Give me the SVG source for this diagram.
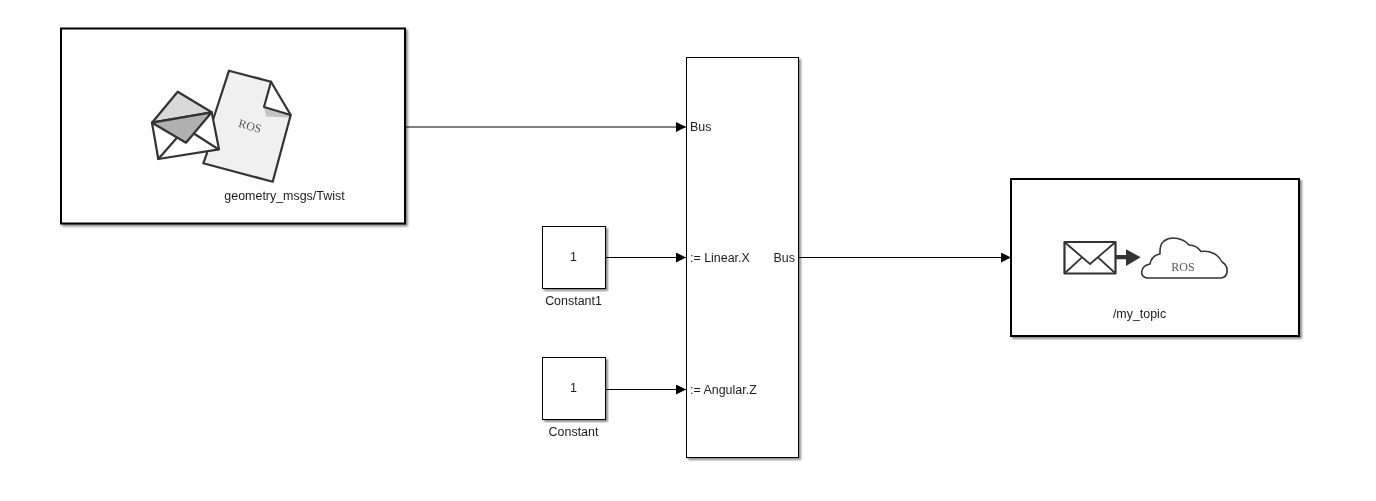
<svg xmlns="http://www.w3.org/2000/svg" width="1376" height="501" viewBox="0 0 1376 501">
<defs>
<filter id="sh" x="-5%" y="-5%" width="110%" height="110%"><feDropShadow dx="2" dy="2" stdDeviation="1.2" flood-color="#000" flood-opacity="0.45"/></filter>
<marker id="arr" markerUnits="userSpaceOnUse" markerWidth="11" markerHeight="10" refX="10" refY="5" orient="auto"><path d="M0,0 L10,5 L0,10 Z" fill="#000"/></marker>
</defs>
<style>
text{font-family:"Liberation Sans",Arial,sans-serif;font-size:12.45px;fill:#1a1a1a;opacity:.99}
text.ros{font-family:"Liberation Serif","Times New Roman",serif;font-size:12px;fill:#555}
.b{fill:#fff;stroke:#000;filter:url(#sh)}
.ic{stroke:#333;stroke-width:2.2;stroke-linejoin:round;stroke-linecap:round}
.c{stroke:#000;stroke-width:1;fill:none;marker-end:url(#arr)}
</style>
<rect width="1376" height="501" fill="#fff"/>
<g id="connectors">
<path class="c" d="M406,127 H686"/>
<path class="c" d="M606,257.500 H686"/>
<path class="c" d="M606,389.500 H686"/>
<path class="c" d="M799,257.500 H1011"/>
</g>
<g id="subscribe">
<rect class="b" x="61" y="28.500" width="344" height="195" stroke-width="2"/>
<path fill="#f0f0f0" d="M229,70.700 L271,81.700 L264,107 L290.700,115 L272.700,181.700 L203.300,163.300 Z"/>
<path d="M264,107 L290.700,115 L289,117.500 L266,116.500 Z" fill="#c4c4c4"/>
<path class="ic" fill="none" d="M213,120 L229,70.700 L271,81.700 L264,107 L290.700,115 L272.700,181.700 L203.300,163.300 L207,153"/>
<path class="ic" fill="none" d="M271,81.700 L290.700,115"/>
<path class="ic" fill="#fff" d="M152,122.700 L158.300,159 L219,149.300 L211.700,112.300 Z"/>
<path class="ic" fill="none" d="M158.300,159 L176.700,138 M218,149 L195,134.300"/>
<path class="ic" fill="#d9d9d9" d="M152,122.700 L177.700,91.700 L211.700,112.300 Z"/>
<path class="ic" fill="#b0b0b0" d="M152,122.700 L211.700,112.300 L186,142.700 Z"/>
<text class="ros" x="250" y="130" text-anchor="middle" transform="rotate(15 250 126)">ROS</text>
<text x="284.500" y="200" text-anchor="middle">geometry_msgs/Twist</text>
</g>
<g id="bus-assignment">
<rect class="b" x="686.500" y="57.500" width="112" height="400" stroke-width="1"/>
<text x="690" y="131">Bus</text>
<text x="690" y="262">:= Linear.X</text>
<text x="690" y="394">:= Angular.Z</text>
<text x="795" y="262" text-anchor="end">Bus</text>
</g>
<g id="constant1">
<rect class="b" x="542.500" y="226.500" width="63" height="62" stroke-width="1"/>
<text x="573.500" y="261" text-anchor="middle">1</text>
<text x="573.500" y="305" text-anchor="middle">Constant1</text>
</g>
<g id="constant">
<rect class="b" x="542.500" y="357.500" width="63" height="62" stroke-width="1"/>
<text x="573.500" y="392" text-anchor="middle">1</text>
<text x="573.500" y="436" text-anchor="middle">Constant</text>
</g>
<g id="publish">
<rect class="b" x="1011" y="179" width="288" height="157" stroke-width="2"/>
<rect class="ic" x="1064.500" y="242" width="51" height="31.500" fill="#fff"/>
<path class="ic" fill="none" style="stroke-width:1.8" d="M1065,242.500 L1090,264 L1115,242.500 M1065,273 L1081.700,257.700 M1115,273 L1098.300,257.700"/>
<path d="M1116,255 H1126 V249.300 L1140.700,257.300 L1126,266 V259.300 H1116 Z" fill="#333"/>
<path class="ic" style="stroke-width:1.6" fill="#fff" d="M1147,278 H1221 C1229,277 1229,266 1222,262 C1219,255 1210,250 1201,251.500 C1197,246 1192,245 1189,245 C1184,239 1172,235 1164,241 C1159,245 1160,251 1160,254 C1154,255 1151,259 1150,264 C1140,266 1139,277 1147,278 Z"/>
<text class="ros" x="1183" y="271" text-anchor="middle">ROS</text>
<text x="1139.500" y="318" text-anchor="middle">/my_topic</text>
</g>
</svg>
